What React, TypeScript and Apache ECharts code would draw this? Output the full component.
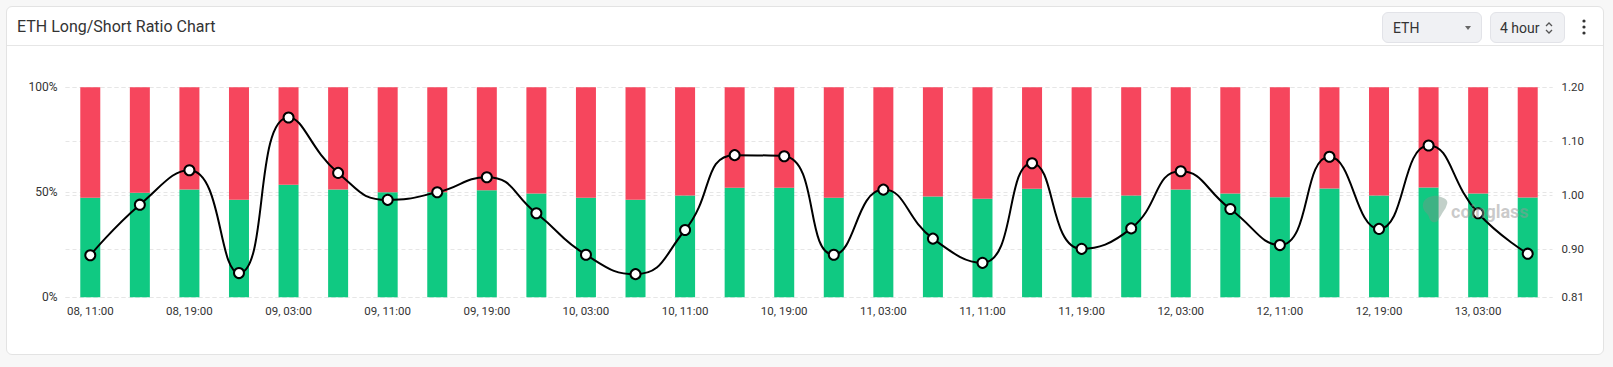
import React, { useEffect, useRef } from "react";
import * as echarts from "echarts";

const categories: string[] = [
  "08, 11:00", "08, 15:00", "08, 19:00", "08, 23:00", "09, 03:00", "09, 07:00",
  "09, 11:00", "09, 15:00", "09, 19:00", "09, 23:00", "10, 03:00", "10, 07:00",
  "10, 11:00", "10, 15:00", "10, 19:00", "10, 23:00", "11, 03:00", "11, 07:00",
  "11, 11:00", "11, 15:00", "11, 19:00", "11, 23:00", "12, 03:00", "12, 07:00",
  "12, 11:00", "12, 15:00", "12, 19:00", "12, 23:00", "13, 03:00", "13, 07:00",
];

const longPct: number[] = [
  47.36, 49.74, 51.36, 46.41, 53.56, 51.36, 50.08, 50.08, 51.03, 49.46,
  47.36, 46.41, 48.5, 52.13, 52.13, 47.36, 50.1, 48.03, 46.88, 51.65,
  47.55, 48.5, 51.36, 49.46, 47.69, 51.84, 48.5, 52.32, 49.46, 47.55,
];

const shortPct: number[] = [
  52.64, 50.26, 48.64, 53.59, 46.44, 48.64, 49.92, 49.92, 48.97, 50.54,
  52.64, 53.59, 51.5, 47.87, 47.87, 52.64, 49.9, 51.97, 53.12, 48.35,
  52.45, 51.5, 48.64, 50.54, 52.31, 48.16, 51.5, 47.68, 50.54, 52.45,
];

const ratio: number[] = [
  0.888, 0.982, 1.046, 0.855, 1.144, 1.041, 0.991, 1.005, 1.033, 0.966,
  0.889, 0.853, 0.935, 1.074, 1.072, 0.889, 1.01, 0.919, 0.874, 1.059,
  0.9, 0.938, 1.044, 0.974, 0.907, 1.071, 0.937, 1.092, 0.966, 0.891,
];

const FONT = "Roboto, 'Noto Sans', sans-serif";

export default function App() {
  const ref = useRef<HTMLDivElement>(null);

  useEffect(() => {
    document.body.style.margin = "0";
    const chart = echarts.init(ref.current!, null, { renderer: "svg" });
    chart.setOption({
      animation: false,
      grid: { left: 65.5, right: 60.5, top: 87.3, bottom: 69.7, containLabel: false },
      xAxis: {
        type: "category",
        data: categories,
        boundaryGap: true,
        axisLine: { show: false },
        axisTick: { show: false },
        axisLabel: {
          interval: 1,
          color: "#333",
          fontSize: 11.5,
          fontFamily: FONT,
          margin: 8,
        },
      },
      yAxis: [
        {
          type: "value",
          min: 0,
          max: 100,
          interval: 50,
          axisLine: { show: false },
          axisTick: { show: false },
          axisLabel: {
            formatter: "{value}%",
            color: "#333",
            fontSize: 12,
            fontFamily: FONT,
            margin: 8,
          },
          splitLine: { lineStyle: { color: "#e6e6e6", type: [4, 3] } },
        },
        {
          type: "value",
          min: 0.81,
          max: 1.2,
          position: "right",
          axisLine: { show: false },
          axisTick: { show: false },
          axisLabel: {
            formatter: (v: number) => v.toFixed(2),
            color: "#333",
            fontSize: 11.5,
            fontFamily: FONT,
            margin: 9,
          },
          splitLine: { lineStyle: { color: "#e6e6e6", type: [4, 3] } },
        },
      ],
      graphic: [
        {
          type: "polygon",
          shape: {
            points: [
              [1426, 199], [1433, 196], [1441, 197], [1447, 201], [1446, 207],
              [1443, 212], [1440, 217], [1436, 222], [1431, 221], [1428, 215],
              [1424, 210], [1423, 204],
            ],
            smooth: 0.4,
          },
          style: { fill: "rgba(120,150,135,0.45)" },
          z: 100,
        },
        {
          type: "text",
          x: 1451,
          y: 211,
          style: {
            text: "coinglass",
            fill: "rgba(150,150,150,0.5)",
            font: `bold 18px ${FONT}`,
            verticalAlign: "middle",
          },
          z: 100,
        },
      ],
      series: [
        {
          name: "Long",
          type: "bar",
          stack: "ls",
          data: longPct,
          barWidth: 20,
          itemStyle: { color: "#10c982" },
        },
        {
          name: "Short",
          type: "bar",
          stack: "ls",
          data: shortPct,
          barWidth: 20,
          itemStyle: { color: "#f6465d" },
        },
        {
          name: "Long/Short Ratio",
          type: "line",
          yAxisIndex: 1,
          data: ratio,
          smooth: true,
          symbol: "circle",
          symbolSize: 10,
          lineStyle: { color: "#000", width: 2 },
          itemStyle: { color: "#fff", borderColor: "#000", borderWidth: 2 },
          z: 5,
        },
      ],
    });
    return () => chart.dispose();
  }, []);

  const boxStyle: React.CSSProperties = {
    position: "absolute",
    top: 12,
    height: 31,
    boxSizing: "border-box",
    background: "#f0f1f4",
    border: "1px solid #e2e3e8",
    borderRadius: 6,
    fontFamily: FONT,
    fontSize: 14,
    color: "#333",
    display: "flex",
    alignItems: "center",
  };

  return (
    <div
      style={{
        position: "absolute",
        left: 0,
        top: 0,
        width: 1613,
        height: 367,
        background: "#f7f7f7",
        overflow: "hidden",
      }}
    >
      <div
        style={{
          position: "absolute",
          left: 6,
          top: 6,
          width: 1598,
          height: 349,
          boxSizing: "border-box",
          background: "#fff",
          border: "1px solid #e3e3e3",
          borderRadius: 6,
        }}
      />
      <div
        style={{
          position: "absolute",
          left: 7,
          top: 45,
          width: 1596,
          height: 1,
          background: "#e6e6e6",
        }}
      />
      <div
        style={{
          position: "absolute",
          left: 17,
          top: 17,
          fontFamily: FONT,
          fontSize: 16,
          color: "#333",
          lineHeight: "20px",
        }}
      >
        ETH Long/Short Ratio Chart
      </div>
      <div style={{ ...boxStyle, left: 1382, width: 100 }}>
        <span style={{ marginLeft: 10 }}>ETH</span>
        <span
          style={{
            position: "absolute",
            left: 82,
            top: 13,
            width: 0,
            height: 0,
            borderLeft: "3.5px solid transparent",
            borderRight: "3.5px solid transparent",
            borderTop: "4px solid #666",
          }}
        />
      </div>
      <div style={{ ...boxStyle, left: 1490, width: 75 }}>
        <span style={{ marginLeft: 9 }}>4 hour</span>
        <svg
          width="10"
          height="14"
          viewBox="0 0 10 14"
          style={{ position: "absolute", left: 53, top: 8 }}
        >
          <polyline points="2,5 5,2 8,5" fill="none" stroke="#555" strokeWidth="1.3" />
          <polyline points="2,9 5,12 8,9" fill="none" stroke="#555" strokeWidth="1.3" />
        </svg>
      </div>
      <svg
        width="6"
        height="18"
        viewBox="0 0 6 18"
        style={{ position: "absolute", left: 1581, top: 18 }}
      >
        <circle cx="3" cy="3" r="1.6" fill="#333" />
        <circle cx="3" cy="9" r="1.6" fill="#333" />
        <circle cx="3" cy="15" r="1.6" fill="#333" />
      </svg>
      <div
        ref={ref}
        style={{ position: "absolute", left: 0, top: 0, width: 1613, height: 367 }}
      />
    </div>
  );
}
